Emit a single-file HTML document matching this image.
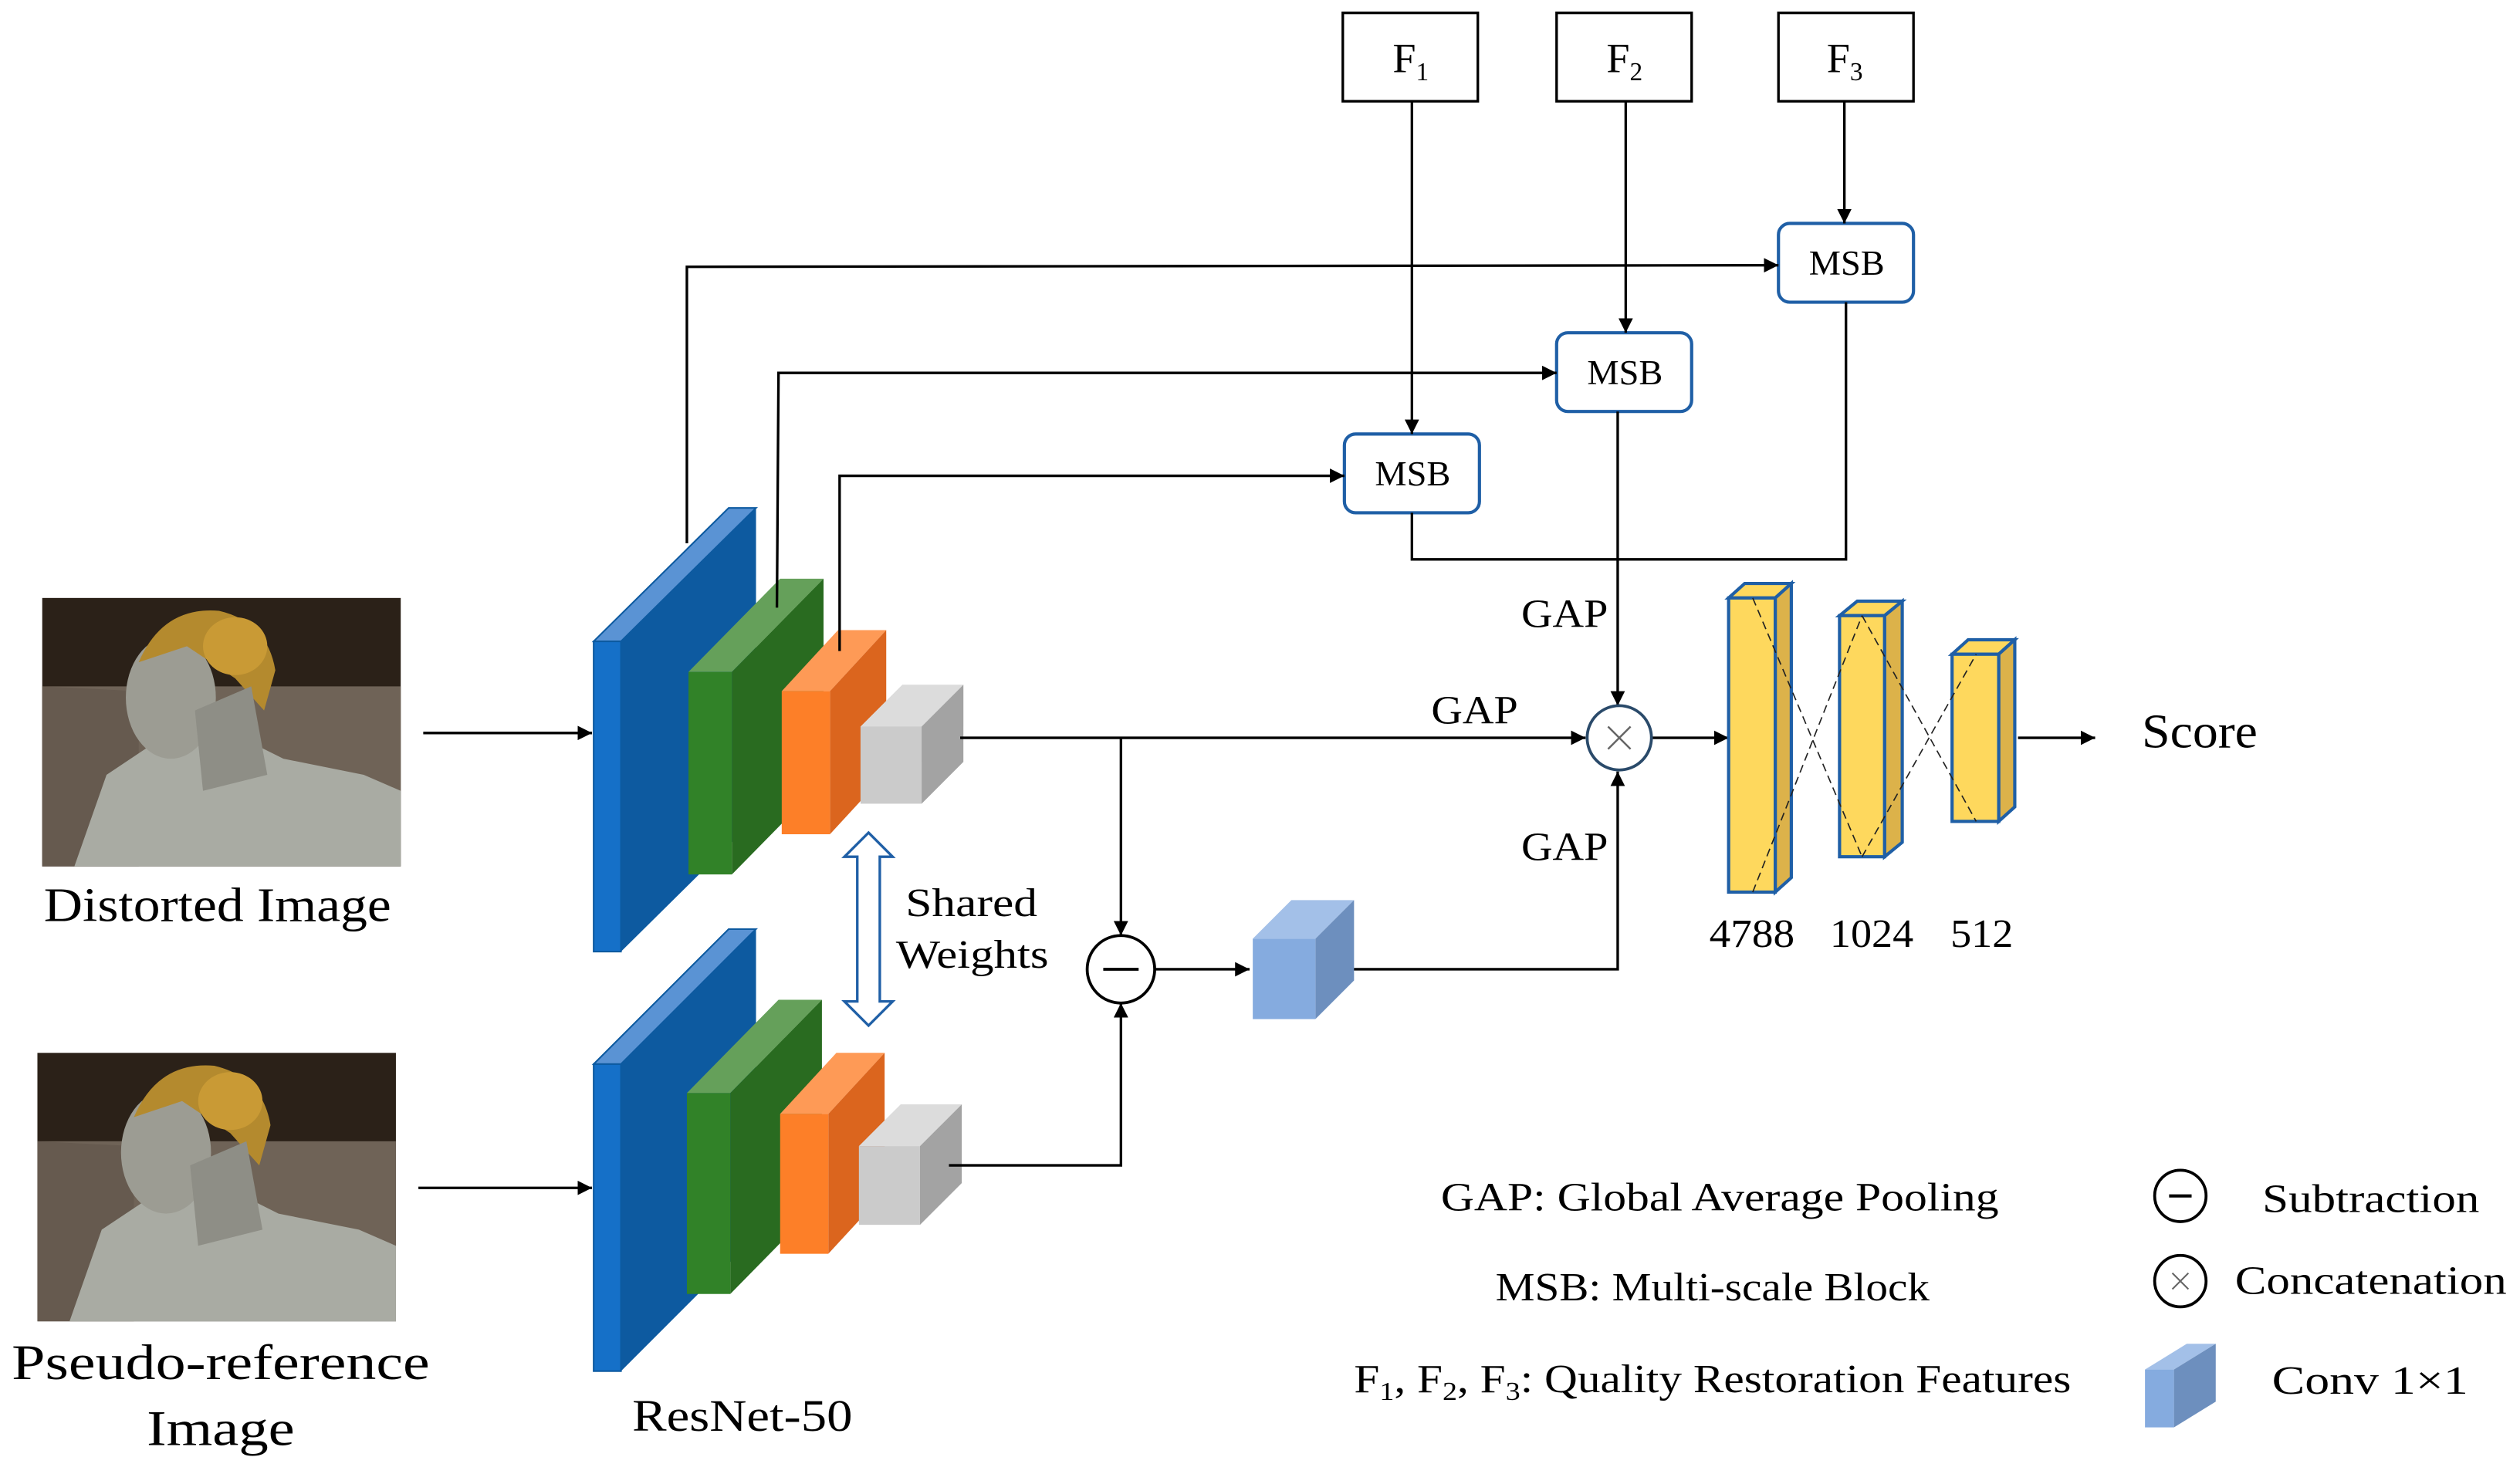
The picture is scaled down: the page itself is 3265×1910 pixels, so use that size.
<!DOCTYPE html>
<html><head><meta charset="utf-8"><style>
html,body{margin:0;padding:0;background:#fff}
svg{display:block}
text{font-family:"Liberation Serif",serif;fill:#000}
</style></head><body>
<svg width="3265" height="1910" viewBox="0 0 1567 917" xmlns="http://www.w3.org/2000/svg">
<defs>
<marker id="ar" viewBox="0 0 10 10" refX="10" refY="5" markerWidth="9" markerHeight="9" markerUnits="userSpaceOnUse" orient="auto"><path d="M0,0 L10,5 L0,10 z" fill="#000"/></marker>
<g id="img">
<rect x="0" y="0" width="223" height="167" fill="#2b2118"/>
<rect x="0" y="55" width="223" height="112" fill="#6f6357"/>
<path d="M0,55 L60,58 L60,167 L0,167z" fill="#665a4f"/>
<path d="M20,167 L40,110 L70,90 L110,80 L150,100 L200,110 L223,120 L223,167z" fill="#a9aba3"/>
<ellipse cx="80" cy="62" rx="28" ry="38" fill="#9c9c93"/>
<path d="M60,40 Q75,5 110,8 Q140,15 145,45 L138,70 L120,50 L90,30z" fill="#b48a2e"/>
<ellipse cx="120" cy="30" rx="20" ry="18" fill="#c99a35"/>
<path d="M95,70 L130,55 L140,110 L100,120z" fill="#8e8e86"/>
</g>
</defs>

<use href="#img" x="26" y="372"/>
<use href="#img" x="23" y="655"/>
<text x="27" y="573" font-size="30" textLength="216" lengthAdjust="spacingAndGlyphs">Distorted Image</text>
<text x="7" y="858" font-size="31" textLength="260" lengthAdjust="spacingAndGlyphs">Pseudo-reference</text>
<text x="91" y="899" font-size="31" textLength="92" lengthAdjust="spacingAndGlyphs">Image</text>

<g stroke="#000" stroke-width="1.6" fill="none">
<line x1="263" y1="456" x2="368" y2="456" marker-end="url(#ar)"/>
<line x1="260" y1="739" x2="368" y2="739" marker-end="url(#ar)"/>
</g>

<g>
<polygon points="369,399 386,399 470,316 453,316" fill="#5a93d4" stroke="#0d5aa0" stroke-width="1"/>
<polygon points="386,399 470,316 470,509 386,592" fill="#0d5aa0"/>
<rect x="369" y="399" width="17" height="193" fill="#1570c8" stroke="#0d5aa0" stroke-width="1"/>
<polygon points="428,418 455,418 512,360 485,360" fill="#65a05a"/>
<polygon points="455,418 512,360 512,486 455,544" fill="#296b20"/>
<rect x="428" y="418" width="27" height="126" fill="#318228"/>
<polygon points="486,430 516,430 551,392 521,392" fill="#fe9a56"/>
<polygon points="516,430 551,392 551,481 516,519" fill="#db651e"/>
<rect x="486" y="430" width="30" height="89" fill="#fd7f28"/>
<polygon points="535,452 573,452 599,426 561,426" fill="#dcdcdc"/>
<polygon points="573,452 599,426 599,474 573,500" fill="#a3a3a3"/>
<rect x="535" y="452" width="38" height="48" fill="#cbcbcb"/>
</g>
<g>
<polygon points="369,662 386,662 470,578 453,578" fill="#5a93d4" stroke="#0d5aa0" stroke-width="1"/>
<polygon points="386,662 470,578 470,769 386,853" fill="#0d5aa0"/>
<rect x="369" y="662" width="17" height="191" fill="#1570c8" stroke="#0d5aa0" stroke-width="1"/>
<polygon points="427,680 454,680 511,622 484,622" fill="#65a05a"/>
<polygon points="454,680 511,622 511,747 454,805" fill="#296b20"/>
<rect x="427" y="680" width="27" height="125" fill="#318228"/>
<polygon points="485,693 515,693 550,655 520,655" fill="#fe9a56"/>
<polygon points="515,693 550,655 550,742 515,780" fill="#db651e"/>
<rect x="485" y="693" width="30" height="87" fill="#fd7f28"/>
<polygon points="534,713 572,713 598,687 560,687" fill="#dcdcdc"/>
<polygon points="572,713 598,687 598,736 572,762" fill="#a3a3a3"/>
<rect x="534" y="713" width="38" height="49" fill="#cbcbcb"/>
</g>
<text x="393" y="890" font-size="28" textLength="137" lengthAdjust="spacingAndGlyphs">ResNet-50</text>

<path d="M540,518 L555,533 L547,533 L547,623 L555,623 L540,638 L525,623 L533,623 L533,533 L525,533 Z" fill="#fff" stroke="#1f5fa6" stroke-width="1.6"/>
<text x="563" y="570" font-size="25" textLength="82" lengthAdjust="spacingAndGlyphs">Shared</text>
<text x="557" y="602" font-size="25" textLength="95" lengthAdjust="spacingAndGlyphs">Weights</text>

<g fill="#fff" stroke="#000" stroke-width="1.6">
<rect x="835" y="8" width="84" height="55"/>
<rect x="968" y="8" width="84" height="55"/>
<rect x="1106" y="8" width="84" height="55"/>
</g>
<text x="866" y="45" font-size="26">F<tspan font-size="16" dy="5">1</tspan></text>
<text x="999" y="45" font-size="26">F<tspan font-size="16" dy="5">2</tspan></text>
<text x="1136" y="45" font-size="26">F<tspan font-size="16" dy="5">3</tspan></text>

<g fill="#fff" stroke="#1f5fa6" stroke-width="2">
<rect x="836" y="270" width="84" height="49" rx="7"/>
<rect x="968" y="207" width="84" height="49" rx="7"/>
<rect x="1106" y="139" width="84" height="49" rx="7"/>
</g>
<g font-size="22">
<text x="855" y="302" textLength="47" lengthAdjust="spacingAndGlyphs">MSB</text>
<text x="987" y="239" textLength="47" lengthAdjust="spacingAndGlyphs">MSB</text>
<text x="1125" y="171" textLength="47" lengthAdjust="spacingAndGlyphs">MSB</text>
</g>

<g stroke="#000" stroke-width="1.6" fill="none">
<line x1="878" y1="63" x2="878" y2="270" marker-end="url(#ar)"/>
<line x1="1011" y1="63" x2="1011" y2="207" marker-end="url(#ar)"/>
<line x1="1147" y1="63" x2="1147" y2="139" marker-end="url(#ar)"/>
<polyline points="427,338 427,166 1106,165" marker-end="url(#ar)"/>
<polyline points="483,378 484,232 968,232" marker-end="url(#ar)"/>
<polyline points="522,405 522,296 836,296" marker-end="url(#ar)"/>
<polyline points="878,319 878,348 1148,348 1148,188"/>
<line x1="1006" y1="256" x2="1006" y2="439" marker-end="url(#ar)"/>
<line x1="597" y1="459" x2="986" y2="459" marker-end="url(#ar)"/>
<line x1="697" y1="459" x2="697" y2="582" marker-end="url(#ar)"/>
<polyline points="590,725 697,725 697,624" marker-end="url(#ar)"/>
<line x1="718" y1="603" x2="777" y2="603" marker-end="url(#ar)"/>
<polyline points="830,603 1006,603 1006,480" marker-end="url(#ar)"/>
<line x1="1027" y1="459" x2="1075" y2="459" marker-end="url(#ar)"/>
<line x1="1255" y1="459" x2="1303" y2="459" marker-end="url(#ar)"/>
</g>

<circle cx="697" cy="603" r="21" fill="#fff" stroke="#000" stroke-width="1.8"/>
<line x1="686" y1="603" x2="708" y2="603" stroke="#000" stroke-width="1.8"/>
<circle cx="1007" cy="459" r="20" fill="#fff" stroke="#2a4a6a" stroke-width="1.8"/>
<path d="M1000,452 L1014,466 M1014,452 L1000,466" stroke="#666" stroke-width="1.2"/>

<polygon points="779,584 818,584 842,560 803,560" fill="#a3c0e8"/>
<polygon points="818,584 842,560 842,610 818,634" fill="#6d8fbe"/>
<rect x="779" y="584" width="39" height="50" fill="#85abdf"/>

<g font-size="25">
<text x="946" y="390" textLength="54" lengthAdjust="spacingAndGlyphs">GAP</text>
<text x="890" y="450" textLength="54" lengthAdjust="spacingAndGlyphs">GAP</text>
<text x="946" y="535" textLength="54" lengthAdjust="spacingAndGlyphs">GAP</text>
</g>

<g stroke="#1f5fa6" stroke-width="2">
<polygon points="1075,372 1104,372 1114,363 1085,363" fill="#fed85d"/>
<polygon points="1104,372 1114,363 1114,546 1104,555" fill="#dcb24a"/>
<rect x="1075" y="372" width="29" height="183" fill="#fed85d"/>
<polygon points="1144,383 1172,383 1183,374 1155,374" fill="#fed85d"/>
<polygon points="1172,383 1183,374 1183,524 1172,533" fill="#dcb24a"/>
<rect x="1144" y="383" width="28" height="150" fill="#fed85d"/>
<polygon points="1214,407 1243,407 1253,398 1224,398" fill="#fed85d"/>
<polygon points="1243,407 1253,398 1253,502 1243,511" fill="#dcb24a"/>
<rect x="1214" y="407" width="29" height="104" fill="#fed85d"/>
</g>
<g stroke="#222" stroke-width="0.8" stroke-dasharray="5,3" fill="none">
<path d="M1090,372 L1158,533 M1090,555 L1158,383 M1158,383 L1229,511 M1158,533 L1229,407"/>
</g>
<g font-size="25">
<text x="1063" y="589" textLength="53" lengthAdjust="spacingAndGlyphs">4788</text>
<text x="1138" y="589" textLength="52" lengthAdjust="spacingAndGlyphs">1024</text>
<text x="1213" y="589" textLength="39" lengthAdjust="spacingAndGlyphs">512</text>
</g>
<text x="1332" y="465" font-size="30" textLength="72" lengthAdjust="spacingAndGlyphs">Score</text>

<g font-size="25">
<text x="896" y="753" textLength="347" lengthAdjust="spacingAndGlyphs">GAP: Global Average Pooling</text>
<text x="930" y="809" textLength="270" lengthAdjust="spacingAndGlyphs">MSB: Multi-scale Block</text>
<text x="842" y="866" textLength="446" lengthAdjust="spacingAndGlyphs">F<tspan font-size="16" dy="5">1</tspan><tspan dy="-5">, F</tspan><tspan font-size="16" dy="5">2</tspan><tspan dy="-5">, F</tspan><tspan font-size="16" dy="5">3</tspan><tspan dy="-5">: Quality Restoration Features</tspan></text>
<text x="1407" y="754" textLength="135" lengthAdjust="spacingAndGlyphs">Subtraction</text>
<text x="1390" y="805" textLength="169" lengthAdjust="spacingAndGlyphs">Concatenation</text>
<text x="1413" y="867" textLength="122" lengthAdjust="spacingAndGlyphs">Conv 1×1</text>
</g>
<circle cx="1356" cy="744" r="16" fill="#fff" stroke="#000" stroke-width="1.8"/>
<line x1="1349" y1="744" x2="1363" y2="744" stroke="#000" stroke-width="2"/>
<circle cx="1356" cy="797" r="16" fill="#fff" stroke="#000" stroke-width="1.8"/>
<path d="M1351,792 L1361,802 M1361,792 L1351,802" stroke="#666" stroke-width="1"/>
<polygon points="1334,852 1352,852 1378,836 1360,836" fill="#a3c0e8"/>
<polygon points="1352,852 1378,836 1378,872 1352,888" fill="#6d8fbe"/>
<rect x="1334" y="852" width="18" height="36" fill="#85abdf"/>
</svg>
</body></html>
